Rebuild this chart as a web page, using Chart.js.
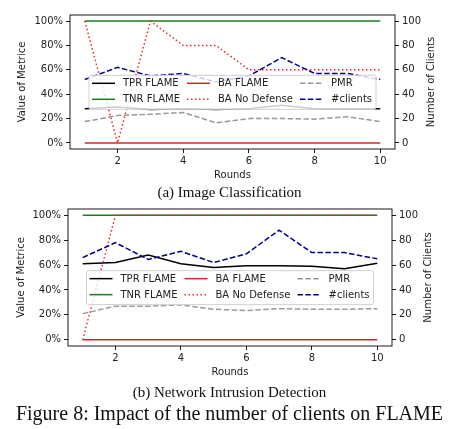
<!DOCTYPE html>
<html>
<head>
<meta charset="utf-8">
<script src="https://cdn.jsdelivr.net/npm/chart.js@4.4.1/dist/chart.umd.min.js"></script>
<style>
  body { margin: 0; width: 459px; height: 429px; background: #fff; position: relative; overflow: hidden; }
  .box { position: absolute; left: 0; width: 459px; }
  .cap { position: absolute; left: 0; width: 459px; text-align: center; font-family: "Liberation Serif", serif; color: #111; white-space: nowrap; }
</style>
</head>
<body>
<div class="box" style="top:0;height:190px"><canvas id="js--chart--1"></canvas></div>
<div class="cap" style="top:184px;font-size:15px">(a) Image Classification</div>
<div class="box" style="top:194px;height:193px"><canvas id="js--chart--2"></canvas></div>
<div class="cap" style="top:384px;font-size:15px">(b) Network Intrusion Detection</div>
<div class="cap" style="top:402px;font-size:20px">Figure 8: Impact of the number of clients on FLAME</div>
<script>
const rounds = [1, 2, 3, 4, 5, 6, 7, 8, 9, 10];
const xTicks = [2, 4, 6, 8, 10];
const yTicks = [0, 20, 40, 60, 80, 100];

// (a) Image Classification
const tprA = [28, 29.5, 27.5, 28, 27.5, 28, 31, 28, 28, 28];
const tnrA = [100, 100, 100, 100, 100, 100, 100, 100, 100, 100];
const baFlameA = [0, 0, 0, 0, 0, 0, 0, 0, 0, 0];
const baNoDefA = [100, 0, 100, 80, 80, 60, 60, 60, 60, 60];
const pmrA = [17.5, 22.5, 23.5, 25, 16.5, 20, 20, 19.5, 21.5, 17.5];
const clientsA = [52, 62, 55, 57, 50, 55, 70, 57, 57, 52];

// (b) Network Intrusion Detection
const tprB = [61, 62, 68, 61, 58, 59.5, 59.5, 59, 57, 61.5];
const tnrB = [100, 100, 100, 100, 100, 100, 100, 100, 100, 100];
const baFlameB = [0, 0, 0, 0, 0, 0, 0, 0, 0, 0];
const baNoDefB = [0, 100, 100, 100, 100, 100, 100, 100, 100, 100];
const pmrB = [21, 27, 27, 28, 24.5, 23.5, 25, 24.5, 24.5, 25];
const clientsB = [66, 78, 64.5, 71, 62, 69, 88, 70, 70, 65];

const labels = ["TPR FLAME", "TNR FLAME", "BA FLAME", "BA No Defense", "PMR", "#clients"];
const colors = ["#000000", "#1a7f1a", "#d62728", "#e8282a", "#999999", "#00008b"];
const dashes = [[], [], [], [1.5, 2.5], [5.5, 2.4], [5.5, 2.4]];

const font = { family: "'DejaVu Sans', sans-serif", size: 10 };

function points(values) {
    return rounds.map(function (r, i) { return { x: r, y: values[i] }; });
}

function makeData(series) {
    return {
        datasets: series.map(function (values, i) {
            return {
                label: labels[i],
                data: points(values),
                borderColor: colors[i],
                backgroundColor: colors[i],
                borderDash: dashes[i],
                borderWidth: 1.5,
                pointRadius: 0,
                tension: 0,
                yAxisID: i === 5 ? "y2" : "y",
                order: 6 - i
            };
        })
    };
}

// legend inside the plot, 3 columns x 2 rows, like matplotlib ncol=3
const innerLegend = {
    id: "innerLegend",
    afterDatasetsDraw(chart) {
        const ctx = chart.ctx;
        const a = chart.chartArea;
        const w = 287, h = 34;
        const left = (a.left + a.right) / 2 - w / 2;
        const top = a.top + 0.45 * (a.bottom - a.top);
        ctx.save();
        ctx.fillStyle = "rgba(255,255,255,0.8)";
        ctx.strokeStyle = "#d0d0d0";
        ctx.lineWidth = 1;
        ctx.beginPath();
        ctx.roundRect(left, top, w, h, 2);
        ctx.fill();
        ctx.stroke();
        const cols = [3, 98, 211];
        ctx.font = "10px 'DejaVu Sans', sans-serif";
        ctx.textBaseline = "middle";
        ctx.fillStyle = "#222";
        labels.forEach(function (lab, i) {
            const col = Math.floor(i / 2);
            const row = i % 2;
            const x = left + cols[col];
            const y = top + 8 + row * 16;
            ctx.strokeStyle = colors[i];
            ctx.lineWidth = 1.5;
            ctx.setLineDash(dashes[i]);
            ctx.beginPath();
            ctx.moveTo(x, y);
            ctx.lineTo(x + 23, y);
            ctx.stroke();
            ctx.setLineDash([]);
            ctx.fillText(lab, x + 31, y + 0.5);
        });
        ctx.restore();
    },
    afterDraw(chart) {
        const ctx = chart.ctx;
        const a = chart.chartArea;
        ctx.save();
        ctx.strokeStyle = "#000";
        ctx.lineWidth = 0.9;
        ctx.strokeRect(a.left, a.top, a.right - a.left, a.bottom - a.top);
        // right axis title, reads bottom to top
        ctx.translate(chart.width - chart.$rightTitle, (a.top + a.bottom) / 2);
        ctx.rotate(-Math.PI / 2);
        ctx.font = "10px 'DejaVu Sans', sans-serif";
        ctx.fillStyle = "#222";
        ctx.textAlign = "center";
        ctx.textBaseline = "middle";
        ctx.fillText("Number of Clients", 0, 0);
        ctx.restore();
    }
};

function makeConfig(series, leftW, rightW, leftTitlePad, rightTitle) {
    const tickGrid = { display: true, drawOnChartArea: false, drawTicks: true, tickLength: 4, color: "#000", lineWidth: 0.9 };
    return {
        type: "line",
        data: makeData(series),
        options: {
            responsive: true,
            maintainAspectRatio: false,
            animation: false,
            layout: { padding: { top: 15, left: 0, right: 0, bottom: 0 } },
            plugins: { legend: { display: false }, tooltip: { enabled: false } },
            scales: {
                x: {
                    type: "linear",
                    min: 0.55,
                    max: 10.45,
                    afterBuildTicks: function (s) { s.ticks = xTicks.map(function (v) { return { value: v }; }); },
                    afterFit: function (s) { s.height = 41; },
                    grid: tickGrid,
                    border: { display: false },
                    ticks: { font: font, color: "#222", padding: 2, maxRotation: 0 },
                    title: { display: true, text: "Rounds", font: font, color: "#222", padding: { top: 0, bottom: 9 } }
                },
                y: {
                    position: "left",
                    min: -5,
                    max: 105,
                    afterBuildTicks: function (s) { s.ticks = yTicks.map(function (v) { return { value: v }; }); },
                    afterFit: function (s) { s.width = leftW; },
                    grid: tickGrid,
                    border: { display: false },
                    ticks: { font: font, color: "#222", padding: 3, callback: function (v) { return v + "%"; } },
                    title: { display: true, text: "Value of Metrice", font: font, color: "#222", padding: { top: leftTitlePad, bottom: 0 } }
                },
                y2: {
                    position: "right",
                    min: -5,
                    max: 105,
                    afterBuildTicks: function (s) { s.ticks = yTicks.map(function (v) { return { value: v }; }); },
                    afterFit: function (s) { s.width = rightW; },
                    grid: tickGrid,
                    border: { display: false },
                    ticks: { font: font, color: "#222", padding: 3 }
                }
            }
        },
        plugins: [innerLegend, {
            id: "rightTitlePos",
            beforeDraw(chart) { chart.$rightTitle = rightTitle; }
        }]
    };
}

new Chart(document.getElementById("js--chart--1"),
    makeConfig([tprA, tnrA, baFlameA, baNoDefA, pmrA, clientsA], 70, 64, 16, 28));
new Chart(document.getElementById("js--chart--2"),
    makeConfig([tprB, tnrB, baFlameB, baNoDefB, pmrB, clientsB], 68, 67, 15, 31));
</script>
</body>
</html>
